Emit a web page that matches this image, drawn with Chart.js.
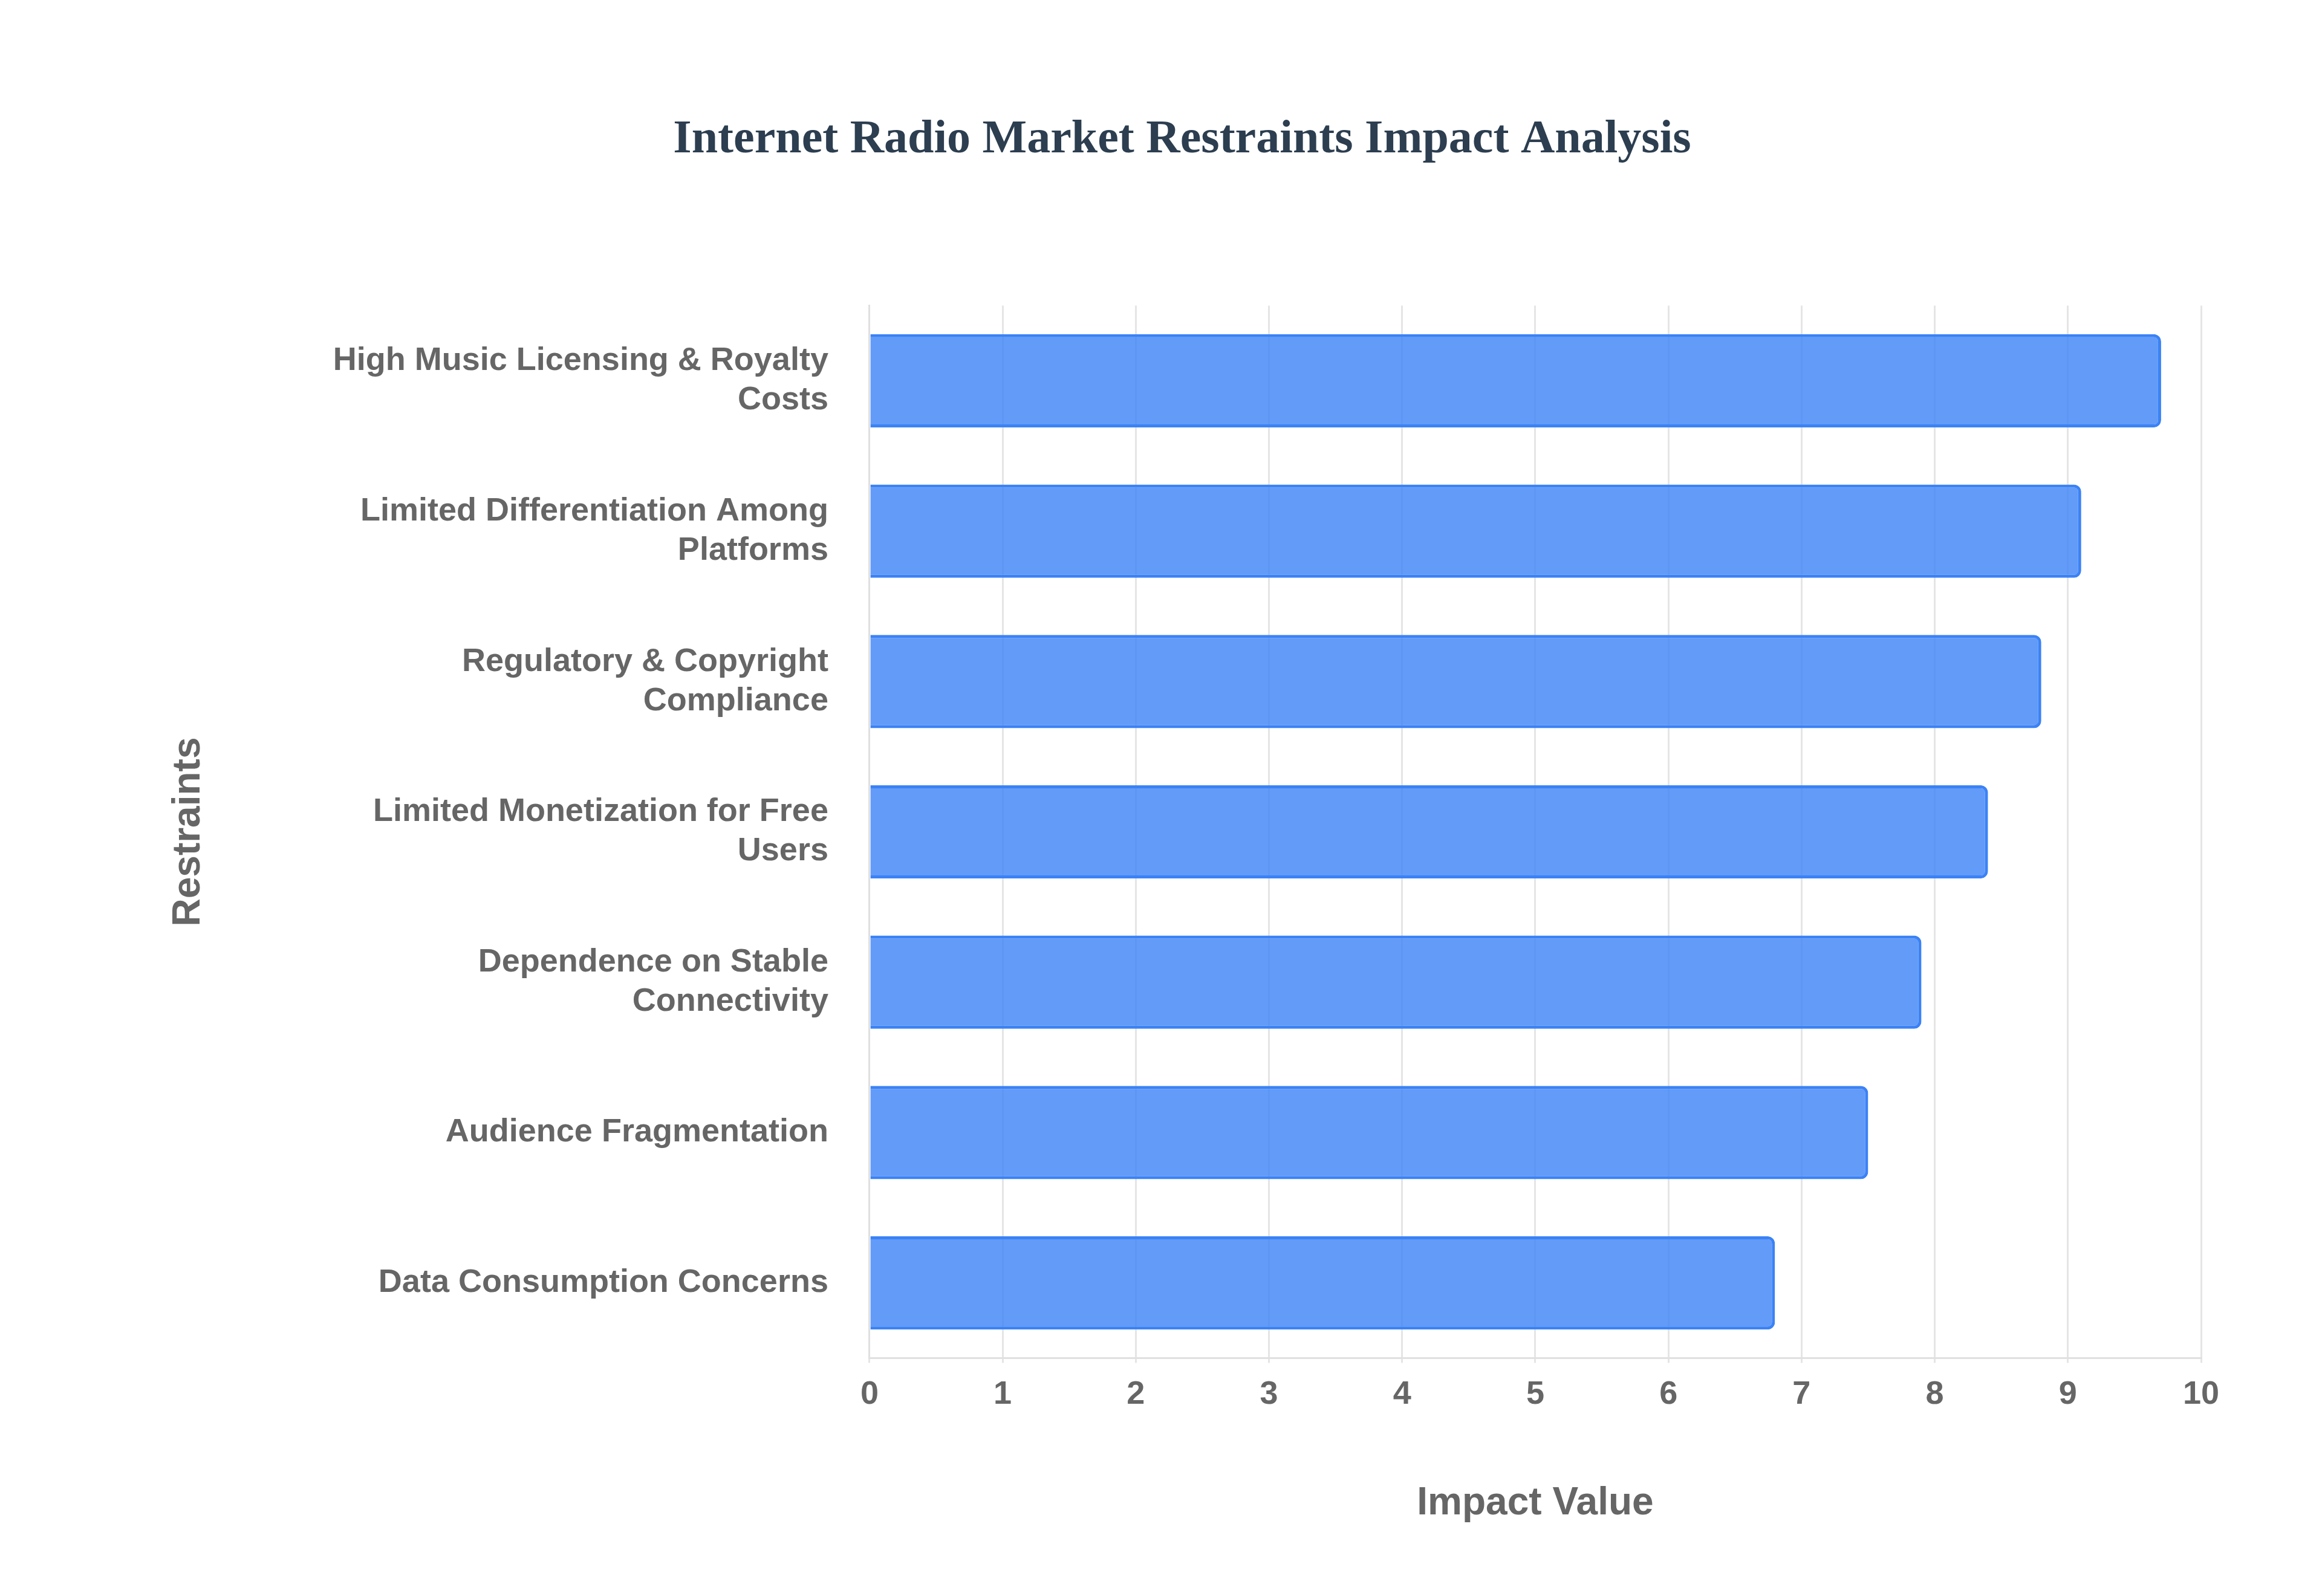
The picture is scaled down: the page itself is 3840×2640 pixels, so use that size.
<!DOCTYPE html>
<html><head><meta charset="utf-8">
<script src="https://cdn.jsdelivr.net/npm/chart.js@4"></script>
<style>html,body{margin:0;padding:0;background:#fff}#wrap{width:3840px;height:2640px}</style>
</head><body><div id="wrap"><canvas id="c" width="3840" height="2640"></canvas></div>
<script>
const categories = [
  ["High Music Licensing & Royalty","Costs"],
  ["Limited Differentiation Among","Platforms"],
  ["Regulatory & Copyright","Compliance"],
  ["Limited Monetization for Free","Users"],
  ["Dependence on Stable","Connectivity"],
  "Audience Fragmentation",
  "Data Consumption Concerns"
];
const impactValues = [9.7, 9.1, 8.8, 8.4, 7.9, 7.5, 6.8];
const xTicks = [0,1,2,3,4,5,6,7,8,9,10];

new Chart(document.getElementById('c'), {
  type: 'bar',
  data: { labels: categories, datasets: [{
    data: impactValues,
    backgroundColor: 'rgba(59,130,246,0.8)',
    borderColor: '#3b82f6',
    borderWidth: 5,
    borderRadius: 12,
    barPercentage: 0.62,
    categoryPercentage: 1
  }]},
  options: {
    indexAxis: 'y',
    responsive: false,
    devicePixelRatio: 1,
    animation: false,
    layout: { padding: { left: 270, right: 200, top: 0, bottom: 110 } },
    plugins: {
      legend: { display: false },
      tooltip: { enabled: false },
      title: { display: true, text: 'Internet Radio Market Restraints Impact Analysis',
        color: '#2c3e50', font: { family: 'Liberation Serif', size: 78, weight: 'bold' },
        padding: { top: 185, bottom: 227 } }
    },
    scales: {
      x: {
        min: 0, max: 10,
        afterBuildTicks: s => { s.ticks = xTicks.map(v => ({ value: v })); },
        grid: { color: '#e5e5e5', lineWidth: 3 },
        border: { color: '#e0e0e0', width: 3 },
        ticks: { color: '#666', font: { family: 'Liberation Sans', size: 54, weight: 'bold' }, padding: 20 },
        title: { display: true, text: 'Impact Value', color: '#666',
          font: { family: 'Liberation Sans', size: 64, weight: 'bold' }, padding: { top: 90 } }
      },
      y: {
        grid: { display: false },
        border: { color: '#e0e0e0', width: 3 },
        ticks: { color: '#666', font: { family: 'Liberation Sans', size: 54, weight: 'bold' }, padding: 60 },
        title: { display: true, text: 'Restraints', color: '#666',
          font: { family: 'Liberation Sans', size: 64, weight: 'bold' }, padding: { bottom: 140 } }
      }
    }
  }
});
</script></body></html>
